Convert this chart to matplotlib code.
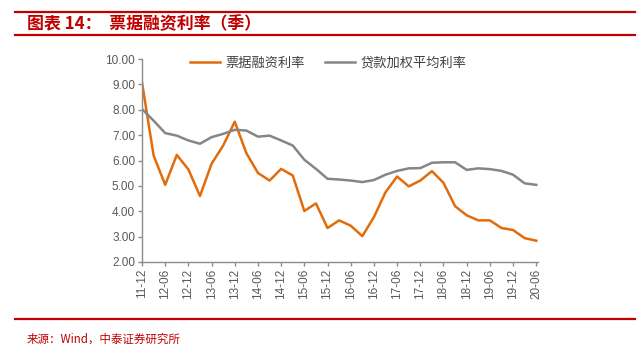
import matplotlib
matplotlib.use("Agg")
import matplotlib.pyplot as plt
from matplotlib.lines import Line2D

plt.rcParams['font.family'] = ['Noto Sans CJK SC', 'DejaVu Sans']

# quarterly data, 2011-12 .. 2020-06
quarters = []
for y in range(11, 21):
    for m in ("03", "06", "09", "12"):
        quarters.append(f"{y}-{m}")
quarters = quarters[quarters.index("11-12"):quarters.index("20-06") + 1]

bill_rate = [9.08, 6.20, 5.04, 6.22, 5.65, 4.60, 5.87, 6.59, 7.53, 6.29,
             5.51, 5.21, 5.67, 5.41, 4.01, 4.31, 3.34, 3.64, 3.43, 3.02,
             3.77, 4.75, 5.37, 4.98, 5.21, 5.58, 5.12, 4.20, 3.84, 3.64,
             3.64, 3.34, 3.26, 2.94, 2.84]
loan_rate = [8.03, 7.57, 7.08, 6.98, 6.79, 6.66, 6.92, 7.05, 7.21, 7.18,
             6.94, 6.98, 6.79, 6.59, 6.03, 5.67, 5.28, 5.25, 5.21, 5.15,
             5.23, 5.44, 5.59, 5.69, 5.70, 5.91, 5.93, 5.93, 5.63, 5.69,
             5.66, 5.59, 5.44, 5.10, 5.04]

RED = "#C00000"
AXIS_GRAY = "#8C8C8C"
TXT_GRAY = "#595959"

fig = plt.figure(figsize=(6.39, 3.54), dpi=100)
ax = fig.add_axes([142 / 639, 92 / 354, 396 / 639, 203 / 354])

x = list(range(len(quarters)))
ax.plot(x, bill_rate, color="#E36C0A", lw=1.8, label="票据融资利率")
ax.plot(x, loan_rate, color="#868686", lw=1.8, label="贷款加权平均利率")

ax.set_xlim(0, len(quarters) - 1 + 0.15)
ax.set_ylim(2, 10)
ax.set_yticks(range(2, 11))
ax.set_yticklabels([f"{v:.2f}" for v in range(2, 11)])
ax.set_xticks(x[::2])
ax.set_xticklabels(quarters[::2], rotation=90)

for s in ("top", "right"):
    ax.spines[s].set_visible(False)
for s in ("left", "bottom"):
    ax.spines[s].set_color(AXIS_GRAY)
    ax.spines[s].set_linewidth(1.0)
ax.tick_params(axis="both", colors=AXIS_GRAY, length=3, width=1,
               labelcolor=TXT_GRAY, labelsize=8.5, pad=2)
for lab in ax.get_xticklabels() + ax.get_yticklabels():
    lab.set_fontfamily("Liberation Sans")

leg = ax.legend(loc="center left", bbox_to_anchor=(190 / 639, 1 - 63 / 354),
                bbox_transform=fig.transFigure, ncol=2, frameon=False,
                fontsize=9.5, handlelength=2.3, handletextpad=0.4,
                columnspacing=1.5, borderpad=0, borderaxespad=0)
for t in leg.get_texts():
    t.set_color("#404040")

# header / footer decoration
for yy in (1 - 11.5 / 354, 1 - 35 / 354, 1 - 319 / 354):
    fig.add_artist(Line2D([15 / 639, 635 / 639], [yy, yy],
                          transform=fig.transFigure, color=RED, lw=1.6))
fig.text(27 / 639, 1 - 24 / 354, "图表 14：  票据融资利率（季）", color=RED,
         fontsize=12.2, fontweight="bold", va="center", ha="left")
fig.text(27 / 639, 1 - 339 / 354, "来源：Wind，中泰证券研究所", color=RED,
         fontsize=8.3, va="center", ha="left")

fig.savefig("out.png", dpi=100)
